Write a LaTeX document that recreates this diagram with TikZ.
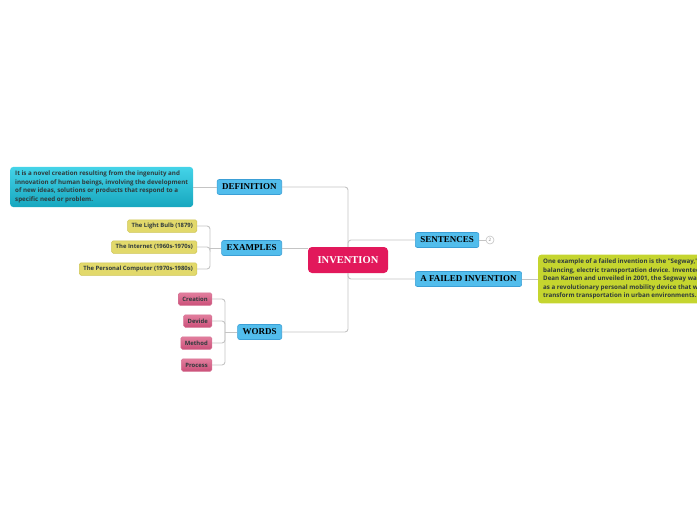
\documentclass[tikz,border=0pt]{standalone}
\usepackage{fontspec}
\setmainfont{Liberation Serif}
\newfontfamily\notefont{Open Sans}
\definecolor{invred}{HTML}{E2185B}
\definecolor{topicfill}{HTML}{52BDEC}
\definecolor{topicedge}{HTML}{3B9FD6}
\definecolor{linegray}{HTML}{C4C4C4}
\definecolor{bulbfill}{HTML}{E2D96B}
\definecolor{bulbedge}{HTML}{CFC455}
\definecolor{wordtop}{HTML}{E27E9E}
\definecolor{wordbot}{HTML}{CB5079}
\definecolor{deftop}{HTML}{44D3E8}
\definecolor{defbot}{HTML}{17A7BF}
\definecolor{failfill}{HTML}{C5D52F}
\definecolor{notetext}{HTML}{2F3A3C}
\tikzset{
	conn/.style={draw=linegray, line width=0.9pt, rounded corners=3pt},
	central/.style={fill=invred, rounded corners=4pt, text=white, minimum width=80pt, minimum height=26pt, font=\bfseries\fontsize{10.5}{12}\selectfont},
	topic/.style={fill=topicfill, draw=topicedge, line width=0.6pt, rounded corners=2pt, minimum height=15pt, inner xsep=5pt, inner ysep=0pt, font=\bfseries\fontsize{9}{10}\selectfont},
	bulbleaf/.style={fill=bulbfill, draw=bulbedge, line width=0.5pt, rounded corners=1.5pt, minimum height=12.5pt, inner xsep=4pt, inner ysep=0pt, text=notetext, font=\notefont\bfseries\fontsize{5.9}{7}\selectfont},
	wordleaf/.style={top color=wordtop, bottom color=wordbot, draw=wordbot!80!white, line width=0.5pt, rounded corners=1.5pt, minimum height=12.5pt, inner xsep=4pt, inner ysep=0pt, text=notetext, font=\notefont\bfseries\fontsize{5.9}{7}\selectfont},
	note/.style={rounded corners=3pt, align=left, inner xsep=5pt, inner ysep=4pt, text=notetext, font=\notefont\bfseries\fontsize{6.2}{8.6}\selectfont},
	counter/.style={circle, draw=linegray, fill=white, line width=0.6pt, minimum size=8pt, inner sep=0pt, text=gray, font=\notefont\fontsize{4.5}{4.5}\selectfont}
}
\begin{document}
\begin{tikzpicture}[x=1pt,y=-1pt]
	\useasboundingbox (0,0) rectangle (697,520);
	\clip (0,0) rectangle (697,520);
	% main topic and branches
	\node [central] (inv) at (348,260) {INVENTION};
	\node [topic, anchor=east] (definition) at (282,187) {DEFINITION};
	\node [topic, anchor=east] (examples) at (282,248) {EXAMPLES};
	\node [topic, anchor=east] (words) at (282,332) {WORDS};
	\node [topic, anchor=west] (sentences) at (415,240) {SENTENCES};
	\node [topic, anchor=west] (failed) at (415,279) {A FAILED INVENTION};
	\node [counter] (sentcount) at (490,240) {2};
	% notes
	\node [note, top color=deftop, bottom color=defbot, anchor=west] (defnote) at (10,187)
		{It is a novel creation resulting from the ingenuity and\\innovation of human beings, involving the development\\of new ideas, solutions or products that respond to a\\specific need or problem.};
	\node [note, fill=failfill, anchor=west] (failnote) at (538,279)
		{One example of a failed invention is the "Segway," a self-\\balancing, electric transportation device. Invented by\\Dean Kamen and unveiled in 2001, the Segway was hailed\\as a revolutionary personal mobility device that would\\transform transportation in urban environments.};
	% leaves
	\node [bulbleaf, anchor=east] (bulb) at (197,226) {The Light Bulb (1879)};
	\node [bulbleaf, anchor=east] (internet) at (197,247) {The Internet (1960s-1970s)};
	\node [bulbleaf, anchor=east] (computer) at (197,269) {The Personal Computer (1970s-1980s)};
	\node [wordleaf, anchor=east] (creation) at (212,299) {Creation};
	\node [wordleaf, anchor=east] (devide) at (212,321) {Devide};
	\node [wordleaf, anchor=east] (method) at (212,343) {Method};
	\node [wordleaf, anchor=east] (process) at (212,365) {Process};
	\coordinate (exfork) at (210,248);
	\coordinate (wordfork) at (225,332);
	% connectors
	\draw [conn] (definition.east) -| (inv.north);
	\draw [conn] (examples.east) -- (examples.east -| inv.west);
	\draw [conn] (words.east) -| (inv.south);
	\draw [conn] (inv.north) |- (sentences.west);
	\draw [conn] (inv.south) |- (failed.west);
	\draw [conn] (sentences.east) -- (sentcount.west);
	\draw [conn] (definition.west) -- (defnote.east);
	\draw [conn] (failed.east) -- (failnote.west);
	\draw [conn] (examples.west) -- (exfork);
	\foreach \leaf in {bulb,internet,computer}
		\draw [conn] (exfork) |- (\leaf.east);
	\draw [conn] (words.west) -- (wordfork);
	\foreach \leaf in {creation,devide,method,process}
		\draw [conn] (wordfork) |- (\leaf.east);
\end{tikzpicture}
\end{document}
